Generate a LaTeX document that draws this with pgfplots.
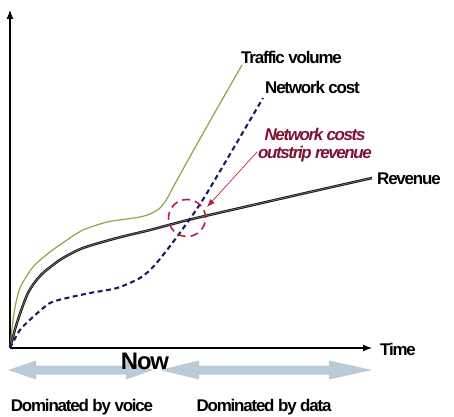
\documentclass[border=0pt]{standalone}
\usepackage{pgfplots}
\pgfplotsset{compat=1.18}
\usetikzlibrary{arrows.meta}
\usepackage{fontspec}
\setmainfont{Liberation Sans}
\newfontfamily\lab{Liberation Sans}[LetterSpace=-7]
\newfontfamily\labr{Liberation Sans}[LetterSpace=-8]
\newfontfamily\labn{Liberation Sans}[LetterSpace=-5]
\definecolor{traffic}{HTML}{8CA646}
\definecolor{navy}{HTML}{1B1B5E}
\definecolor{circ}{HTML}{B5203F}
\definecolor{redtxt}{HTML}{7E1230}
\definecolor{arrowblue}{HTML}{B9CAD8}
\begin{document}
\begin{tikzpicture}
\begin{axis}[
  width=362bp, height=338bp, scale only axis,
  xmin=0, xmax=362, ymin=0, ymax=338,
  axis lines=left, ticks=none, clip=false,
  axis line style={line width=1.1pt, -{Latex[length=9pt,width=7pt]}},
]
% bounding box
\path (axis cs:-10,-69) rectangle (axis cs:444,348);

% traffic volume
\addplot[traffic, line width=1.2pt, smooth, tension=0.45] coordinates {
(0,0) (4,35) (10,60) (23,81) (40,96) (57,108) (73,118) (97,126) (117,129)
(130,131) (140,134) (150,140) (158,151) (167,168) (200,227) (232,283)};

% revenue
\addplot[black!90, line width=1pt, double=black!45, double distance=0.5pt, smooth, tension=0.5] coordinates {
(0,0) (6,22) (12,40) (18,55) (25,66) (33,75) (43,83) (53,90) (73,100) (107,110) (140,118) (178,128) (230,140) (300,156) (362,170)};

% network cost
\addplot[navy, line width=2.1pt, dash pattern=on 5pt off 3.5pt, smooth, tension=0.45] coordinates {
(0,0) (10,18) (23,31) (40,45) (57,50) (80,55) (107,60) (130,70) (143,81) (157,98) (177,125) (197,155) (253,250)};

% circle and arrow
\draw[circ, line width=1.6pt, dash pattern=on 8pt off 5pt] (axis cs:177,130) circle [radius=18.5bp];
\draw[circ, line width=0.7pt, -{Latex[length=8pt,width=6pt]}] (axis cs:247,196) -- (axis cs:197,141);

% labels
\node[anchor=west, inner sep=0pt, font=\lab\bfseries\fontsize{17}{19}\selectfont] at (axis cs:231,291) {Traffic volume};
\node[anchor=west, inner sep=0pt, font=\lab\bfseries\fontsize{17}{19}\selectfont] at (axis cs:255,261) {Network cost};
\node[anchor=west, inner sep=0pt, font=\lab\bfseries\fontsize{17}{19}\selectfont] at (axis cs:367,169) {Revenue};
\node[anchor=west, inner sep=0pt, font=\lab\bfseries\fontsize{17}{19}\selectfont] at (axis cs:370,-1) {Time};
\node[align=center, inner sep=0pt, text=redtxt, font=\labr\bfseries\itshape\fontsize{17}{18}\selectfont] at (axis cs:305,203) {Network costs\\outstrip revenue};

% double arrows
\fill[arrowblue] (axis cs:-2,-22) -- (axis cs:26,-12.5) -- (axis cs:26,-17.5) -- (axis cs:116,-17.5) -- (axis cs:116,-12.5) -- (axis cs:143,-22)
  -- (axis cs:116,-31.5) -- (axis cs:116,-26.5) -- (axis cs:26,-26.5) -- (axis cs:26,-31.5) -- cycle;
\fill[arrowblue] (axis cs:150,-22) -- (axis cs:189,-12.5) -- (axis cs:189,-17.5) -- (axis cs:319,-17.5) -- (axis cs:319,-12.5) -- (axis cs:362,-22)
  -- (axis cs:319,-31.5) -- (axis cs:319,-26.5) -- (axis cs:189,-26.5) -- (axis cs:189,-31.5) -- cycle;

\node[inner sep=0pt, font=\labn\bfseries\fontsize{24}{26}\selectfont] at (axis cs:135,-13) {Now};
\node[inner sep=0pt, font=\lab\bfseries\fontsize{17}{19}\selectfont] at (axis cs:72,-59) {Dominated by voice};
\node[inner sep=0pt, font=\lab\bfseries\fontsize{17}{19}\selectfont] at (axis cs:254,-59) {Dominated by data};
\end{axis}
\end{tikzpicture}
\end{document}
